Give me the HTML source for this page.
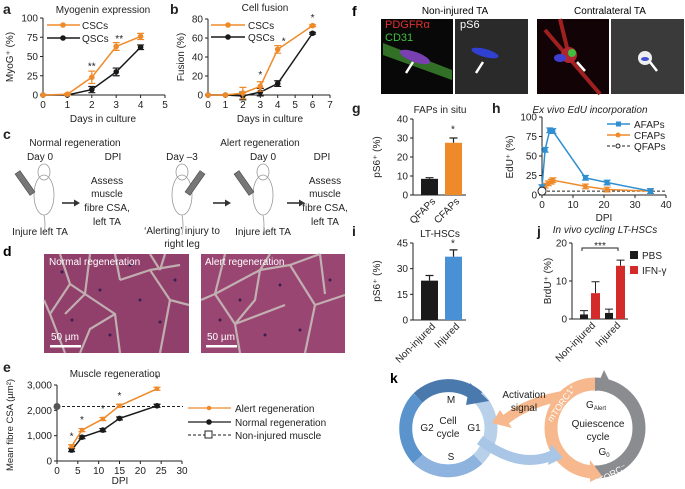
<!DOCTYPE html>
<html><head><meta charset="utf-8">
<style>
html,body{margin:0;padding:0;background:#fff;}
svg{display:block;font-family:"Liberation Sans",sans-serif;}
</style></head>
<body>
<svg id="fig" width="685" height="489" viewBox="0 0 685 489" xmlns="http://www.w3.org/2000/svg">
<!-- panel c static illustration -->
<g font-size="10" fill="#222" text-anchor="middle">
<text x="3" y="139" font-weight="bold" font-size="14" text-anchor="start">c</text>
<text x="75" y="146">Normal regeneration</text>
<text x="260" y="146">Alert regeneration</text>
<text x="40" y="160">Day 0</text><text x="113" y="160">DPI</text>
<text x="182" y="160">Day –3</text><text x="263" y="160">Day 0</text><text x="322" y="160">DPI</text>
<text x="107" y="184">Assess</text><text x="107" y="197">muscle</text><text x="107" y="211">fibre CSA,</text><text x="107" y="225">left TA</text>
<text x="325" y="184">Assess</text><text x="325" y="197">muscle</text><text x="325" y="211">fibre CSA,</text><text x="325" y="225">left TA</text>
<text x="40" y="235">Injure left TA</text>
<text x="182" y="234">‘Alerting’ injury to</text><text x="182" y="247">right leg</text>
<text x="263" y="235">Injure left TA</text>
<g stroke="#333" stroke-width="1.6"><line x1="62" y1="203" x2="76" y2="203"/><line x1="213" y1="203" x2="227" y2="203"/><line x1="287" y1="203" x2="301" y2="203"/></g>
<g fill="#333"><path d="M80 203 l-6 -3.5 v7z"/><path d="M231 203 l-6 -3.5 v7z"/><path d="M305 203 l-6 -3.5 v7z"/></g>
<g fill="none" stroke="#999" stroke-width="0.8">
<ellipse cx="44" cy="195" rx="10" ry="20"/><ellipse cx="44" cy="172" rx="6" ry="8"/><path d="M44 215 q2 10 0 20"/>
<ellipse cx="182" cy="195" rx="10" ry="20"/><ellipse cx="182" cy="172" rx="6" ry="8"/><path d="M182 215 q2 10 0 20"/>
<ellipse cx="263" cy="195" rx="10" ry="20"/><ellipse cx="263" cy="172" rx="6" ry="8"/><path d="M263 215 q2 10 0 20"/>
</g>
<g fill="#777" stroke="#444" stroke-width="0.6">
<rect x="22" y="170" width="6" height="26" transform="rotate(-35 25 183)"/>
<rect x="192" y="170" width="6" height="26" transform="rotate(35 195 183)"/>
<rect x="241" y="170" width="6" height="26" transform="rotate(-35 244 183)"/>
</g>
</g>
<!-- panel d histology -->
<g>
<text x="3" y="256" font-weight="bold" font-size="14">d</text>
<rect x="44" y="254" width="145" height="99" fill="#913f6b"/>
<rect x="201" y="254" width="144" height="99" fill="#9a4672"/>
<g fill="none" stroke="#c9c2bc" stroke-width="2.2" opacity="0.85">
<path d="M60 254 l10 30 l-20 30 l15 39 M90 254 l-5 40 l30 20 l5 39 M120 280 l30 -10 l20 30 l-10 53 M150 254 l10 16 M70 284 l15 10 M44 300 l6 14 M85 294 l-20 20 M115 314 l-25 15 l-10 24 M150 270 l30 -5 M170 300 l19 5 M120 280 l-5 -26 M160 270 l5 -16"/>
<path d="M225 254 l-10 40 l20 30 l5 29 M260 270 l30 -5 l25 40 l-10 48 M215 294 l45 -24 l10 -16 M290 265 l30 -11 M235 324 l50 -19 M201 300 l14 -6 M315 305 l30 -10 M260 270 l-5 30 l-20 24 M320 254 l5 40"/>
</g>
<g fill="#3a2050">
<circle cx="62" cy="272" r="1.5"/><circle cx="100" cy="290" r="1.5"/><circle cx="140" cy="300" r="1.5"/><circle cx="72" cy="320" r="1.5"/><circle cx="110" cy="335" r="1.5"/><circle cx="160" cy="322" r="1.5"/><circle cx="175" cy="280" r="1.5"/><circle cx="130" cy="265" r="1.5"/>
<circle cx="240" cy="300" r="1.5"/><circle cx="280" cy="285" r="1.5"/><circle cx="300" cy="330" r="1.5"/><circle cx="330" cy="280" r="1.5"/><circle cx="220" cy="320" r="1.5"/><circle cx="265" cy="335" r="1.5"/>
</g>
<g fill="#fff" font-size="10"><text x="49" y="265">Normal regeneration</text><text x="205" y="265">Alert regeneration</text>
<text x="51" y="340">50 µm</text><text x="207" y="340">50 µm</text></g>
<rect x="50" y="345" width="31" height="2.5" fill="#fff"/><rect x="206" y="345" width="31" height="2.5" fill="#fff"/>
</g>
<!-- panel f microscopy -->
<g>
<text x="352" y="16" font-weight="bold" font-size="14">f</text>
<text x="455" y="14" font-size="10" text-anchor="middle">Non-injured TA</text>
<text x="610" y="14" font-size="10" text-anchor="middle">Contralateral TA</text>
<rect x="381" y="19" width="72" height="75" fill="#080808"/>
<rect x="455" y="19" width="73" height="75" fill="#2a2a2a"/>
<rect x="537" y="19" width="72" height="75" fill="#120406"/>
<rect x="611" y="19" width="73" height="75" fill="#3a3a3a"/>
<path d="M383 43 L452 70 L452 80 L383 55z" fill="#3d8a2f" opacity="0.8"/>
<ellipse cx="415" cy="57" rx="16" ry="5" fill="#7a3fb0" transform="rotate(20 415 57)"/>
<ellipse cx="485" cy="53" rx="14" ry="4" fill="#3040d0" transform="rotate(15 485 53)"/>
<path d="M545 30 L600 94 M560 19 L570 60" stroke="#a02020" stroke-width="4"/>
<circle cx="569" cy="55" r="8" fill="#b02530"/><circle cx="572" cy="53" r="4" fill="#40c040"/><ellipse cx="560" cy="58" rx="6" ry="4" fill="#4040d0"/>
<circle cx="645" cy="58" r="7" fill="#eee"/><ellipse cx="645" cy="59" rx="4" ry="2" fill="#4050d0"/>
<g fill="#fff" font-size="11"><text x="385" y="28" fill="#e03030">PDGFRα</text><text x="385" y="41" fill="#40c040">CD31</text><text x="460" y="28">pS6</text></g>
<g stroke="#fff" stroke-width="2.5" fill="#fff"><line x1="406" y1="73" x2="413" y2="62"/><line x1="476" y1="73" x2="483" y2="62"/><line x1="585" y1="71" x2="577" y2="62"/><line x1="657" y1="71" x2="650" y2="62"/></g>
</g>
<!-- panel k diagram -->
<g>
<text x="390" y="383" font-weight="bold" font-size="14">k</text>
<g fill="none" stroke-width="13">
<path d="M418 398 A44 44 0 0 1 478 397" stroke="#4a79ad"/>
<path d="M418 398 A44 44 0 0 0 418 459" stroke="#5b93cc"/>
<path d="M418 459 A44 44 0 0 0 478 459" stroke="#8db3de"/>
<path d="M478 459 A44 44 0 0 0 491 428 A44 44 0 0 0 478 397" stroke="#b8d0ea"/>
<path d="M480 440 Q520 470 553 455" stroke="#a9c6e6" stroke-width="10"/>
<path d="M595 384 A44 44 0 0 0 595 472" stroke="#f6b88c"/>
<path d="M595 384 A44 44 0 0 1 595 472" stroke="#8b8c90"/>
<path d="M570 395 Q530 400 505 420" stroke="#f6b88c" stroke-width="10"/>
</g>
<path d="M470 383 L489 401 L466 405z" fill="#4a79ad"/>
<path d="M551 444 L563 458 L548 465z" fill="#a9c6e6"/>
<path d="M590 460 L602 476 L590 482z" fill="#f6b88c"/>
<path d="M604 370 L595 391 L613 388z" fill="#8b8c90"/>
<path d="M492 423 L500 410 L512 428z" fill="#f6b88c"/>
<g font-size="10" fill="#222" text-anchor="middle">
<text x="451" y="403">M</text><text x="427" y="431">G2</text><text x="448" y="424">Cell</text><text x="448" y="437">cycle</text><text x="474" y="431">G1</text><text x="451" y="460">S</text>
<text x="524" y="398">Activation</text><text x="524" y="411">signal</text>
<text x="596" y="408">G<tspan font-size="6" dy="2">Alert</tspan></text>
<text x="598" y="427">Quiescence</text><text x="598" y="440">cycle</text>
<text x="604" y="455">G<tspan font-size="6" dy="2">0</tspan></text>
<text x="564" y="405" fill="#fff" font-size="9" transform="rotate(-55 564 405)">mTORC1⁺</text>
<text x="611" y="478" fill="#fff" font-size="9" transform="rotate(-30 611 478)">mTORC⁻</text>
</g>
</g>
<g id="charts"></g>
</svg>
<script>
// ---- data ----
const aDays=[0,1,2,3,4];
const aCSC=[0,1,23,63,76];
const aCSCerr=[0,1,8,5,4];
const aQSC=[0,0,7,30,62];
const aQSCerr=[0,0,4,5,3];
const bDaysC=[0,1,2,3,4,6];
const bCSC=[0,0,2,9,48,73];
const bCSCerr=[0,0,6,5,4,1];
const bQSC=[0,0,-1,3,12,65];
const bQSCerr=[0,0,4,4,3,1];
const eDays=[3.5,6,11,15,24];
const eAlert=[580,1220,1660,2180,2850];
const eNormal=[430,940,1220,1680,2180];
const eNonInjured=2150;
const gCats=['QFAPs','CFAPs'];
const gVals=[8.5,27.5];
const gErr=[0.6,2.5];
const hAF_x=[0,1,2.5,3.5,14,21,35];
const hAF_y=[10,58,83,82,22,16,5];
const hCF_x=[0,1,2,3,3.5,14,21,35];
const hCF_y=[10,12,15,17,19,11,7,5];
const hQF=5;
const iCats=['Non-injured','Injured'];
const iVals=[23,37];
const iErr=[3,4];
const jCats=['Non-injured','Injured'];
const jPBS=[1.2,1.6];
const jIFN=[6.8,14];
const jPBSerr=[1,1];
const jIFNerr=[3,1.5];

const NS='http://www.w3.org/2000/svg';
const root=document.getElementById('charts');
function mk(tag,attrs,name,parent){
  const el=document.createElementNS(NS,tag);
  for(const k in attrs) el.setAttribute(k,attrs[k]);
  
  
  (parent||root).appendChild(el);return el;
}
function txt(x,y,s,name,o){o=o||{};
  const t=mk('text',Object.assign({x:x,y:y,'font-size':o.fs||10,fill:o.fill||'#222','text-anchor':o.anchor||'middle'},o.tr?{transform:o.tr}:{}, o.fw?{'font-weight':o.fw}:{}, o.fst?{'font-style':o.fst}:{}),name);
  t.textContent=s;return t;}
function scale(d0,d1,p0,p1){return v=>p0+(v-d0)*(p1-p0)/(d1-d0);}
function axes(X,Y,xt,yt,xl,yl,name){
  const g=mk('g',{},name+'-axes');
  mk('line',{x1:X(xt[0]),y1:Y(yt[0]),x2:X(xt[0]),y2:Y(yt[yt.length-1]),stroke:'#222','stroke-width':1},name+'-y-axis',g);
  yt.forEach((v,i)=>{mk('line',{x1:X(xt[0])-3,y1:Y(v),x2:X(xt[0]),y2:Y(v),stroke:'#222'},name+'-y-tick',g);
    txt(X(xt[0])-5,Y(v)+3.5,yl?yl[i]:String(v),name+'-y-tick-label',{anchor:'end'});});
  if(xt.length>1){
  mk('line',{x1:X(xt[0]),y1:Y(yt[0]),x2:X(xt[xt.length-1]),y2:Y(yt[0]),stroke:'#222'},name+'-x-axis',g);
  xt.forEach((v,i)=>{mk('line',{x1:X(v),y1:Y(yt[0]),x2:X(v),y2:Y(yt[0])+3,stroke:'#222'},name+'-x-tick',g);
    txt(X(v),Y(yt[0])+13,xl?xl[i]:String(v),name+'-x-tick-label');});}
}
function series(X,Y,xs,ys,errs,color,name,r,sq){
  const pts=xs.map((x,i)=>X(x)+','+Y(ys[i])).join(' ');
  mk('polyline',{points:pts,fill:'none',stroke:color,'stroke-width':1.5},name+'-line');
  xs.forEach((x,i)=>{
    if(errs&&errs[i]>0){const e=errs[i];
      mk('path',{d:`M${X(x)} ${Y(ys[i]-e)}V${Y(ys[i]+e)}M${X(x)-3.5} ${Y(ys[i]-e)}h7M${X(x)-3.5} ${Y(ys[i]+e)}h7`,stroke:color,'stroke-width':1.2,fill:'none'},name+'-error-bar');}
    if(sq) mk('rect',{x:X(x)-2.5,y:Y(ys[i])-2.5,width:5,height:5,fill:color},name+'-point');
    else mk('circle',{cx:X(x),cy:Y(ys[i]),r:r||2.8,fill:color},name+'-point');
  });
}
const OR='#ef8a2a', BK='#1a1a1a', BL='#2f8fd0';
// ---- panel a ----
(function(){
 const X=scale(0,5,43,165),Y=scale(0,100,95,18);
 txt(3,14,'a','panel-a-label',{fs:14,fw:'bold',anchor:'start'});
 txt(103,13,'Myogenin expression','panel-a-title');
 axes(X,Y,[0,1,2,3,4,5],[0,25,50,75,100],null,null,'panel-a');
 txt(103,122,'Days in culture','panel-a-x-title');
 txt(13,57,'MyoG⁺ (%)','panel-a-y-title',{tr:'rotate(-90 13 57)'});
 series(X,Y,aDays,aQSC,aQSCerr,BK,'panel-a-qsc');
 series(X,Y,aDays,aCSC,aCSCerr,OR,'panel-a-csc');
 txt(X(2),Y(33),'**','panel-a-sig-2');txt(X(3)+3,Y(69),'**','panel-a-sig-3');
 mk('line',{x1:47,y1:25,x2:80,y2:25,stroke:OR,'stroke-width':1.5},'legend-csc-line');mk('circle',{cx:63,cy:25,r:2.8,fill:OR},'legend-csc-marker');
 txt(82,29,'CSCs','legend-csc-label',{anchor:'start'});
 mk('line',{x1:47,y1:38,x2:80,y2:38,stroke:BK,'stroke-width':1.5},'legend-qsc-line');mk('circle',{cx:63,cy:38,r:2.8,fill:BK},'legend-qsc-marker');
 txt(82,42,'QSCs','legend-qsc-label',{anchor:'start'});
})();
// ---- panel b ----
(function(){
 const X=scale(0,7,208,330),Y=scale(0,80,95,19);
 txt(170,14,'b','panel-b-label',{fs:14,fw:'bold',anchor:'start'});
 txt(265,11,'Cell fusion','panel-b-title');
 axes(X,Y,[0,1,2,3,4,5,6,7],[0,20,40,60,80],null,null,'panel-b');
 txt(270,122,'Days in culture','panel-b-x-title');
 txt(184,57,'Fusion (%)','panel-b-y-title',{tr:'rotate(-90 184 57)'});
 series(X,Y,bDaysC,bQSC,bQSCerr,BK,'panel-b-qsc');
 series(X,Y,bDaysC,bCSC,bCSCerr,OR,'panel-b-csc');
 txt(X(3),Y(18),'*','panel-b-sig-3');txt(X(4)+6,Y(53),'*','panel-b-sig-4');txt(X(6),Y(78),'*','panel-b-sig-6');
 mk('line',{x1:211,y1:25,x2:245,y2:25,stroke:OR,'stroke-width':1.5},'legend-b-csc-line');mk('circle',{cx:228,cy:25,r:2.8,fill:OR},'legend-b-csc-marker');
 txt(248,29,'CSCs','legend-b-csc-label',{anchor:'start'});
 mk('line',{x1:211,y1:37,x2:245,y2:37,stroke:BK,'stroke-width':1.5},'legend-b-qsc-line');mk('circle',{cx:228,cy:37,r:2.8,fill:BK},'legend-b-qsc-marker');
 txt(248,41,'QSCs','legend-b-qsc-label',{anchor:'start'});
})();
// ---- panel e ----
(function(){
 const X=scale(0,30,57,182),Y=scale(0,3000,461,385);
 txt(3,372,'e','panel-e-label',{fs:14,fw:'bold',anchor:'start'});
 txt(115,377,'Muscle regeneration','panel-e-title');
 axes(X,Y,[0,5,10,15,20,25,30],[0,1000,2000,3000],null,['0','1,000','2,000','3,000'],'panel-e');
 txt(120,484,'DPI','panel-e-x-title');
 txt(13,425,'Mean fibre CSA (µm²)','panel-e-y-title',{tr:'rotate(-90 13 425)',fs:9.5});
 mk('line',{x1:X(0),y1:Y(eNonInjured),x2:183,y2:Y(eNonInjured),stroke:'#222','stroke-dasharray':'3,2'},'panel-e-noninjured-line');
 mk('circle',{cx:X(0),cy:Y(eNonInjured),r:3.5,fill:'#555'},'panel-e-noninjured-point');
 series(X,Y,eDays,eNormal,eNormal.map(()=>60),BK,'panel-e-normal');
 series(X,Y,eDays,eAlert,eAlert.map(()=>60),OR,'panel-e-alert',2.3);
 eDays.forEach((d,i)=>txt(X(d),Y(eAlert[i])-7,'*','panel-e-sig'));
 mk('line',{x1:188,y1:408,x2:231,y2:408,stroke:OR,'stroke-width':1.3},'legend-e-alert-line');mk('circle',{cx:209,cy:408,r:2.3,fill:OR},'legend-e-alert-marker');
 txt(235,412,'Alert regeneration','legend-e-alert-label',{anchor:'start'});
 mk('line',{x1:188,y1:422,x2:231,y2:422,stroke:BK,'stroke-width':1.3},'legend-e-normal-line');mk('circle',{cx:209,cy:422,r:2.8,fill:BK},'legend-e-normal-marker');
 txt(235,426,'Normal regeneration','legend-e-normal-label',{anchor:'start'});
 mk('line',{x1:188,y1:435,x2:231,y2:435,stroke:BK,'stroke-dasharray':'3,2'},'legend-e-noninjured-line');mk('rect',{x:205,y:431,width:7,height:7,fill:'#fff',stroke:'#222'},'legend-e-noninjured-marker');
 txt(235,439,'Non-injured muscle','legend-e-noninjured-label',{anchor:'start'});
})();
function bars(X0,Y,cats,vals,errs,colors,w,name){
 vals.forEach((v,i)=>{const x=X0[i];
  mk('rect',{x:x,y:Y(v),width:w,height:Y(0)-Y(v),fill:colors[i]},name+'-bar-'+i);
  mk('path',{d:`M${x+w/2} ${Y(v)}V${Y(v+errs[i])}M${x+w/2-4} ${Y(v+errs[i])}h8`,stroke:'#222','stroke-width':1.2},name+'-error-bar');
 });
}
// ---- panel g ----
(function(){
 const Y=scale(0,40,195,119);
 txt(352,113,'g','panel-g-label',{fs:14,fw:'bold',anchor:'start'});
 txt(440,113,'FAPs in situ','panel-g-title');
 axes(()=>413,Y,[0],[0,10,20,30,40],null,null,'panel-g');
 mk('line',{x1:413,y1:195,x2:466,y2:195,stroke:'#222'},'panel-g-x-axis');
 bars([421,445],Y,gCats,gVals,gErr,[BK,OR],17,'panel-g');
 txt(453,Y(33),'*','panel-g-sig');
 gCats.forEach((c,i)=>txt(436+i*24,202,c,'panel-g-x-label',{anchor:'end',tr:`rotate(-45 ${436+i*24} 202)`}));
 txt(380,157,'pS6⁺ (%)','panel-g-y-title',{tr:'rotate(-90 380 157)'});
})();
// ---- panel h ----
(function(){
 const X=scale(0,40,542,666),Y=scale(0,100,195,117);
 txt(492,113,'h','panel-h-label',{fs:14,fw:'bold',anchor:'start'});
 txt(590,113,'Ex vivo EdU incorporation','panel-h-title',{fst:'italic'});
 axes(X,Y,[0,10,20,30,40],[0,25,50,75,100],null,null,'panel-h');
 txt(604,221,'DPI','panel-h-x-title');
 txt(513,157,'EdU⁺ (%)','panel-h-y-title',{tr:'rotate(-90 513 157)'});
 mk('line',{x1:X(0),y1:Y(hQF),x2:X(40),y2:Y(hQF),stroke:'#222','stroke-dasharray':'3,2'},'panel-h-qfaps-line');
 series(X,Y,hCF_x,hCF_y,hCF_y.map(()=>3),OR,'panel-h-cfaps',2.5);
 series(X,Y,hAF_x,hAF_y,hAF_y.map(()=>3),BL,'panel-h-afaps',2,true);
 mk('circle',{cx:X(0),cy:Y(hQF),r:4,fill:'#fff',stroke:'#222'},'panel-h-qfaps-point');
 mk('line',{x1:607,y1:124,x2:630,y2:124,stroke:BL,'stroke-width':1.5},'legend-h-afaps-line');mk('rect',{x:616,y:121.5,width:5,height:5,fill:BL},'legend-h-afaps-marker');
 txt(634,128,'AFAPs','legend-h-afaps-label',{anchor:'start'});
 mk('line',{x1:607,y1:135,x2:630,y2:135,stroke:OR,'stroke-width':1.5},'legend-h-cfaps-line');mk('circle',{cx:618,cy:135,r:2.5,fill:OR},'legend-h-cfaps-marker');
 txt(634,139,'CFAPs','legend-h-cfaps-label',{anchor:'start'});
 mk('line',{x1:607,y1:146,x2:630,y2:146,stroke:'#222','stroke-dasharray':'3,2'},'legend-h-qfaps-line');mk('circle',{cx:618,cy:146,r:2,fill:'#fff',stroke:'#222'},'legend-h-qfaps-marker');
 txt(634,150,'QFAPs','legend-h-qfaps-label',{anchor:'start'});
})();
// ---- panel i ----
(function(){
 const Y=scale(0,45,320,243);
 txt(352,236,'i','panel-i-label',{fs:14,fw:'bold',anchor:'start'});
 txt(440,237,'LT-HSCs','panel-i-title');
 axes(()=>413,Y,[0],[0,15,30,45],null,null,'panel-i');
 mk('line',{x1:413,y1:320,x2:466,y2:320,stroke:'#222'},'panel-i-x-axis');
 bars([421,445],Y,iCats,iVals,iErr,[BK,'#4a90d4'],17,'panel-i');
 txt(453,Y(43),'*','panel-i-sig');
 iCats.forEach((c,i)=>txt(436+i*24,327,c,'panel-i-x-label',{anchor:'end',tr:`rotate(-45 ${436+i*24} 327)`}));
 txt(380,281,'pS6⁺ (%)','panel-i-y-title',{tr:'rotate(-90 380 281)'});
})();
// ---- panel j ----
(function(){
 const Y=scale(0,20,319,243);
 txt(537,236,'j','panel-j-label',{fs:14,fw:'bold',anchor:'start'});
 txt(605,233,'In vivo cycling LT-HSCs','panel-j-title',{fst:'italic'});
 axes(()=>572,Y,[0],[0,10,20],null,null,'panel-j');
 mk('line',{x1:572,y1:319,x2:628,y2:319,stroke:'#222'},'panel-j-x-axis');
 const RD='#d42a2a';
 jPBS.forEach((v,i)=>{const x=580+i*25;
  mk('rect',{x:x,y:Y(v),width:8,height:Y(0)-Y(v),fill:BK},'panel-j-pbs-bar');
  mk('path',{d:`M${x+4} ${Y(v)}V${Y(v+jPBSerr[i])}M${x} ${Y(v+jPBSerr[i])}h8`,stroke:'#222'},'panel-j-pbs-error');
  mk('rect',{x:x+11,y:Y(jIFN[i]),width:9,height:Y(0)-Y(jIFN[i]),fill:RD},'panel-j-ifn-bar');
  mk('path',{d:`M${x+15.5} ${Y(jIFN[i])}V${Y(jIFN[i]+jIFNerr[i])}M${x+11.5} ${Y(jIFN[i]+jIFNerr[i])}h8`,stroke:'#222'},'panel-j-ifn-error');
 });
 mk('path',{d:'M582 251v-3h36v3',stroke:'#222',fill:'none'},'panel-j-sig-bracket');
 txt(600,249,'***','panel-j-sig');
 jCats.forEach((c,i)=>txt(596+i*25,326,c,'panel-j-x-label',{anchor:'end',tr:`rotate(-45 ${596+i*25} 326)`}));
 txt(551,281,'BrdU⁺ (%)','panel-j-y-title',{tr:'rotate(-90 551 281)'});
 mk('rect',{x:630,y:251,width:8,height:8,fill:BK},'legend-j-pbs-swatch');txt(642,259,'PBS','legend-j-pbs-label',{anchor:'start'});
 mk('rect',{x:630,y:266,width:8,height:8,fill:RD},'legend-j-ifn-swatch');txt(642,274,'IFN-γ','legend-j-ifn-label',{anchor:'start'});
})();
</script>
</body></html>
